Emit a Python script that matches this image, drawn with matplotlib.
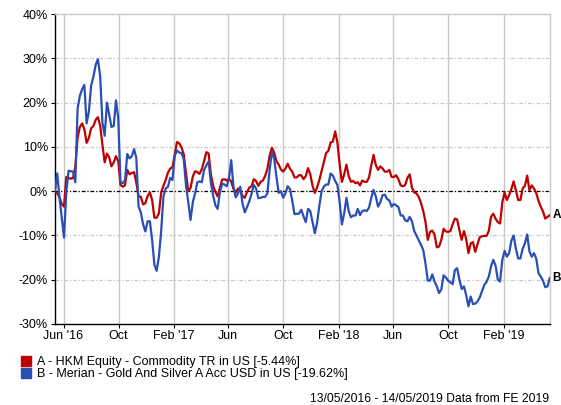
import numpy as np
import pandas as pd
import matplotlib
matplotlib.use("Agg")
import matplotlib.pyplot as plt
import matplotlib.dates as mdates
from matplotlib.patches import Patch

plt.rcParams['font.family'] = ['Liberation Sans', 'DejaVu Sans']

start = '2016-05-13'
end = '2019-05-14'

# A - HKM Equity - Commodity TR in US, cumulative %
series_a = [
    0, -0.5, -1.4, -2.9, -3.5, 3.2, 3.0, 2.8, 3.0, 5.5,
    12.0, 14.5, 15.3, 14.0, 10.9, 12.0, 14.2, 14.7, 16.1, 16.7,
    14.8, 10.5, 6.5, 8.5, 7.6, 5.6, 6.5, 7.9, 6.8, 1.4,
    1.0, 1.3, 4.8, 3.8, 4.1, 4.3, 1.9, -1.1, -1.3, -3.0,
    -2.7, -1.1, -0.3, -2.0, -6.0, -6.0, -5.0, -0.3, 1.2, 2.5,
    4.2, 5.1, 5.4, 8.2, 11.1, 10.8, 9.9, 8.3, 4.0, 0.0,
    0.7, 3.3, 4.5, 4.3, 3.9, 5.0, 6.8, 8.8, 8.5, 3.8,
    1.2, -0.2, -1.2, 0.8, 2.6, 2.7, 2.4, 2.8, 2.2, 0.5,
    -0.3, 0.6, 0.2, -1.1, -1.5, -0.2, 0.8, 1.1, 2.7, 2.3,
    1.2, 2.1, 2.4, 3.4, 5.0, 8.0, 9.8, 8.7, 6.8, 6.0,
    4.9, 4.4, 5.1, 6.2, 5.1, 4.4, 3.1, 3.1, 3.6, 3.6,
    2.7, 3.4, 5.2, 3.8, 1.2, -0.4, 0.8, 2.5, 4.5, 6.4,
    8.6, 9.1, 11.0, 11.2, 13.5, 11.0, 6.0, 2.1, 3.8, 6.0,
    3.4, 2.1, 2.3, 1.8, 2.0, 1.3, 2.4, 2.1, 2.1, 3.1,
    5.8, 8.2, 5.9, 4.8, 5.6, 5.1, 4.4, 4.4, 4.8, 3.2,
    3.2, 3.6, 2.7, 1.3, 1.1, 1.4, 3.0, 3.8, 0.8, -0.3,
    -0.5, -1.3, -2.7, -4.5, -7.0, -11.0, -9.2, -8.9, -9.8, -12.7,
    -12.5, -11.0, -8.5, -9.1, -9.2, -9.0, -7.5, -6.2, -6.4, -8.8,
    -11.0, -9.0, -10.8, -14.0, -11.8, -11.5, -13.7, -12.0, -10.4, -10.2,
    -10.1, -10.1, -9.0, -5.8, -5.1, -6.2, -7.0, -7.3, -2.5, -0.3,
    -2.0, -0.9, 0.5, 2.2, 0.2, -2.0, -2.0, 0.6, 1.2, 3.5,
    0.2, 1.3, 0.6, -0.4, -2.2, -3.5, -4.6, -6.2, -5.8, -5.44,
]

# B - Merian - Gold And Silver A Acc USD in US
series_b = [
    0, 4.0, -1.5, -6.0, -10.5, -0.3, 4.6, 4.5, 4.4, 2.0,
    18.6, 21.5, 23.0, 24.0, 15.3, 18.0, 23.8, 25.8, 28.5, 29.8,
    26.0, 15.5, 12.5, 20.0, 17.2, 14.5, 14.7, 20.5, 16.5, 2.0,
    1.8, 2.5, 8.4, 7.4, 7.9, 9.5, 7.5, -3.5, -4.8, -7.5,
    -9.1, -6.8, -6.8, -11.0, -16.6, -18.0, -14.8, -9.0, -1.2, 0.6,
    1.0, 3.0, 2.5, 8.0, 9.2, 8.7, 8.6, 7.2, 1.2, -2.5,
    -6.5, -2.5, -0.5, 2.0, 2.2, 2.0, 4.8, 5.8, 6.7, 1.9,
    -1.0, -3.2, -4.0, -0.3, 1.7, 1.5, 1.1, 2.8, 7.0, 1.0,
    -1.4, -0.5, 1.0, -2.8, -4.8, -3.6, -2.3, -0.6, 1.4, 0.6,
    -1.6, -1.5, -1.3, -1.3, -0.5, 4.8, 8.8, 7.4, 3.3, -0.4,
    0.0, -1.5, -0.5, 1.1, 0.5, -2.1, -5.2, -5.1, -5.1, -4.2,
    -5.7, -7.0, -4.0, -4.5, -7.0, -9.5, -7.2, -3.3, 0.0, 1.0,
    1.5, 1.5, 4.0, 3.5, 2.3, 1.4, -2.5, -7.5, -5.0, -1.5,
    -4.5, -5.9, -5.5, -5.5, -4.0, -5.4, -4.5, -4.3, -4.5, -3.7,
    -1.5, 0.3, -1.2, -3.5, -2.5, -0.9, -0.8, -1.8, -2.1, -3.5,
    -2.9, -3.2, -3.6, -5.5, -5.5, -6.6, -6.8, -5.8, -6.8, -9.0,
    -10.0, -11.1, -12.1, -13.3, -16.4, -20.2, -20.2, -18.8, -20.4, -21.5,
    -23.0, -22.2, -19.0, -19.5, -20.2, -20.6, -21.0, -17.8, -17.4, -20.0,
    -22.1, -21.5, -23.5, -26.0, -23.8, -25.5, -25.4, -24.9, -24.0, -22.6,
    -21.2, -20.5, -19.3, -17.0, -15.5, -16.8, -20.0, -20.4, -15.5, -13.5,
    -14.8, -14.0, -11.2, -10.0, -13.0, -15.2, -15.2, -13.0, -11.8, -9.8,
    -13.6, -14.8, -14.0, -15.2, -18.5, -19.3, -20.2, -21.7, -21.5, -19.62,
]

labels = ['A - HKM Equity - Commodity TR in US [-5.44%]',
          'B - Merian - Gold And Silver A Acc USD in US [-19.62%]']
tick_dates = ['2016-06-01', '2016-10-01', '2017-02-01', '2017-06-01', '2017-10-01',
              '2018-02-01', '2018-06-01', '2018-10-01', '2019-02-01']
tick_labels = ["Jun '16", 'Oct', "Feb '17", 'Jun', 'Oct', "Feb '18", 'Jun', 'Oct', "Feb '19"]
y_ticks = [-30, -20, -10, 0, 10, 20, 30, 40]

red = '#c00000'
blue = '#2a4fb4'

dates_a = pd.date_range(start, end, periods=len(series_a))
dates_b = pd.date_range(start, end, periods=len(series_b))

fig = plt.figure(figsize=(5.61, 4.05), dpi=100)
ax = fig.add_axes([0.098, 0.2, 0.882, 0.7654])

ax.plot(dates_a, series_a, color=red, lw=1.6, zorder=3)
ax.plot(dates_b, series_b, color=blue, lw=1.6, zorder=4)

ax.set_xlim(pd.Timestamp(start), pd.Timestamp(end))
ax.set_ylim(-30, 40)

ax.set_xticks(pd.to_datetime(tick_dates))
ax.set_xticklabels(tick_labels)
ax.set_yticks(y_ticks)
ax.set_yticklabels([f'{v}%' for v in y_ticks])
ax.tick_params(axis='both', labelsize=9, direction='out', length=3, width=0.8, colors='black')
ax.tick_params(axis='x', pad=1)
ax.tick_params(axis='y', pad=2)

# grid
for d in pd.to_datetime(tick_dates):
    ax.axvline(d, color='#c8c8c8', lw=1, zorder=1)
for v in y_ticks[1:-1]:
    if v == 0:
        ax.axhline(0, color='black', lw=0.9, linestyle=(0, (3, 1.5, 1, 1.5)), zorder=2)
    else:
        ax.axhline(v, color='#c8c8c8', lw=0.9, linestyle=(0, (3, 1.5, 1, 1.5)), zorder=1)

for side in ['top', 'right']:
    ax.spines[side].set_color('#c8c8c8')
    ax.spines[side].set_linewidth(1)
for side in ['left', 'bottom']:
    ax.spines[side].set_color('black')
    ax.spines[side].set_linewidth(1)

ax.annotate('A', xy=(dates_a[-1], series_a[-1]), xytext=(2, 0), textcoords='offset points',
            fontsize=8.5, fontweight='bold', va='center', ha='left', annotation_clip=False)
ax.annotate('B', xy=(dates_b[-1], series_b[-1]), xytext=(2, 0), textcoords='offset points',
            fontsize=8.5, fontweight='bold', va='center', ha='left', annotation_clip=False)

handles = [Patch(facecolor=red, edgecolor=red), Patch(facecolor=blue, edgecolor=blue)]
fig.legend(handles, labels, loc='upper left', bbox_to_anchor=(0.038, 0.12),
           frameon=False, fontsize=9, handlelength=0.75, handleheight=0.75,
           handletextpad=0.5, labelspacing=0.0, borderaxespad=0, borderpad=0)

fig.text(0.978, 0.016, '13/05/2016 - 14/05/2019 Data from FE 2019', ha='right', va='center', fontsize=8.7)

fig.savefig('out.png', dpi=100)
